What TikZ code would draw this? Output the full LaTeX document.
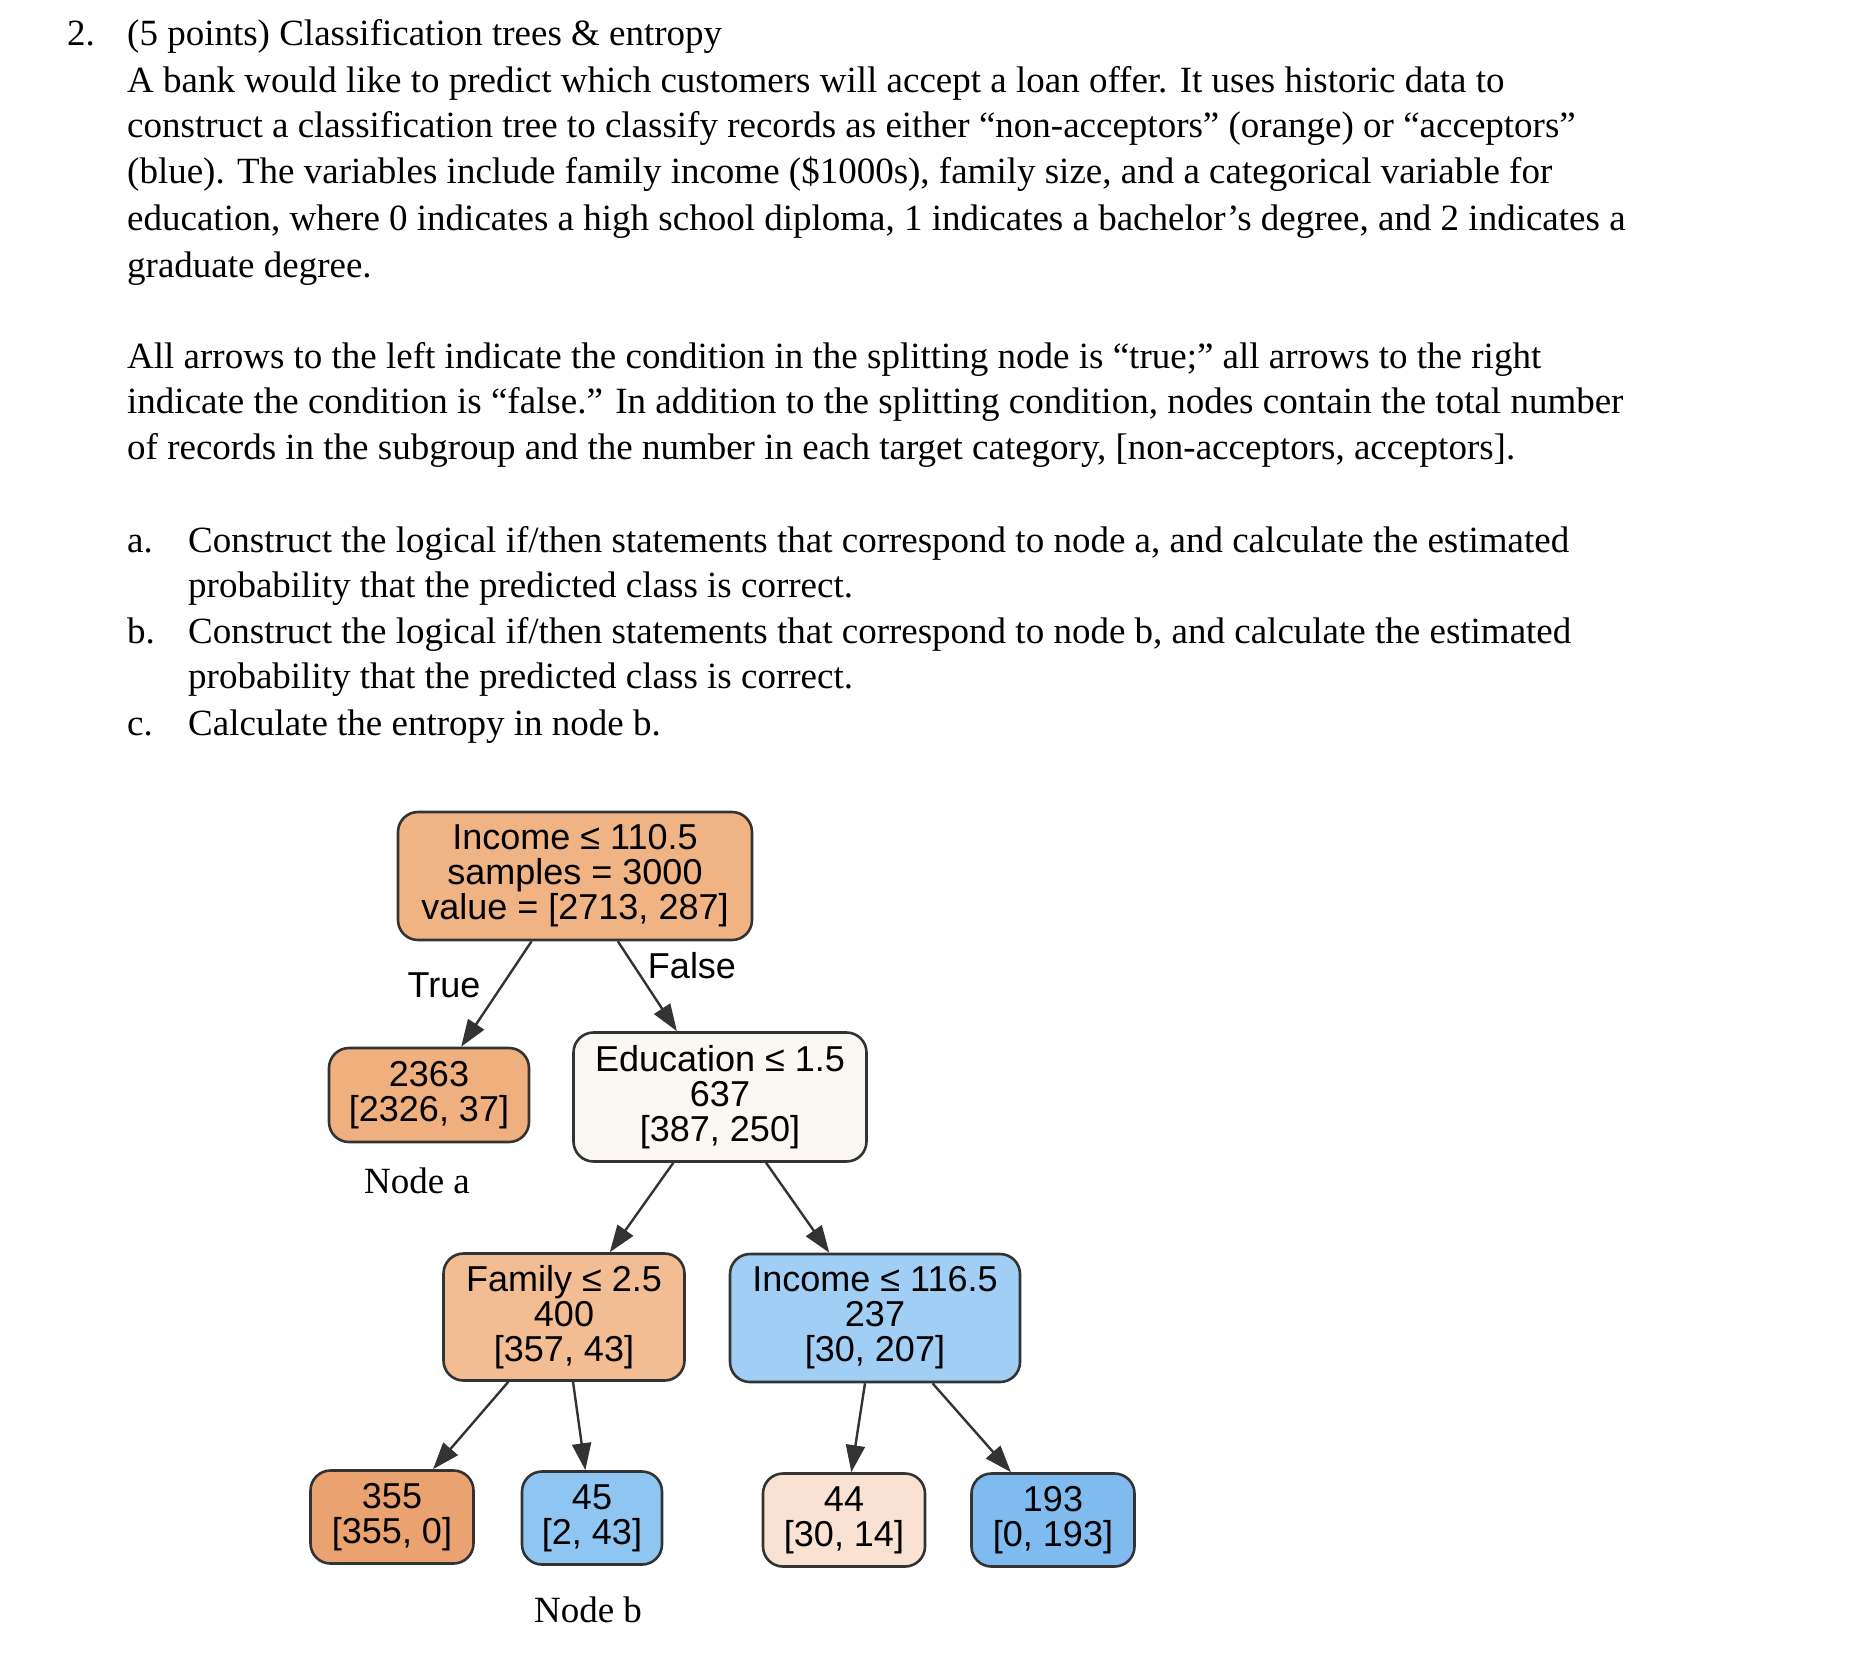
\documentclass[tikz,border=0pt]{standalone}
\usepackage{fontspec}
\setmainfont{Liberation Serif}
\newfontfamily\hv{Liberation Sans}
\usetikzlibrary{arrows.meta}
\definecolor{ink}{HTML}{333333}
\definecolor{orA}{HTML}{F0B384}
\definecolor{orB}{HTML}{EFAF7E}
\definecolor{orC}{HTML}{F2BD92}
\definecolor{orD}{HTML}{EAA270}
\definecolor{peach}{HTML}{F9E2D1}
\definecolor{cream}{HTML}{FBF7F2}
\definecolor{blA}{HTML}{A0CEF4}
\definecolor{blB}{HTML}{8FC5F1}
\definecolor{blC}{HTML}{7FBBEF}
\tikzset{
  txt/.style={anchor=base west, inner sep=0pt, font=\fontsize{37}{46}\selectfont},
  lbl/.style={anchor=base, inner sep=0pt, font=\fontsize{37}{46}\selectfont},
  tbox/.style={draw=ink, line width=2.6pt, rounded corners=20pt, inner sep=0pt,
    align=center, font=\hv\fontsize{36}{35}\selectfont},
  tedge/.style={draw=ink, line width=2.4pt, -{Triangle[length=27pt,width=19pt]}},
  elbl/.style={anchor=base, inner sep=0pt, font=\hv\fontsize{36}{35}\selectfont}
}
\begin{document}
\begin{tikzpicture}[x=1pt,y=-1pt]
\useasboundingbox (0,0) rectangle (1852,1668);
% text
\node[txt] (n2) at (67,45) {2.};
\node[txt] (l1) at (127,45) {(5 points) Classification trees \& entropy};
\node[txt] (l2) at (127,92) {A bank would like to predict which customers will accept a loan offer. It uses historic data to};
\node[txt] (l3) at (127,137) {construct a classification tree to classify records as either “non-acceptors” (orange) or “acceptors”};
\node[txt] (l4) at (127,183) {(blue). The variables include family income (\$1000s), family size, and a categorical variable for};
\node[txt] (l5) at (127,230) {education, where 0 indicates a high school diploma, 1 indicates a bachelor’s degree, and 2 indicates a};
\node[txt] (l6) at (127,277) {graduate degree.};
\node[txt] (l7) at (127,368) {All arrows to the left indicate the condition in the splitting node is “true;” all arrows to the right};
\node[txt] (l8) at (127,413) {indicate the condition is “false.” In addition to the splitting condition, nodes contain the total number};
\node[txt] (l9) at (127,459) {of records in the subgroup and the number in each target category, [non-acceptors, acceptors].};
\node[txt] (qa) at (127,552) {a.};
\node[txt] (qa1) at (188,552) {Construct the logical if/then statements that correspond to node a, and calculate the estimated};
\node[txt] (qa2) at (188,597) {probability that the predicted class is correct.};
\node[txt] (qb) at (127,643) {b.};
\node[txt] (qb1) at (188,643) {Construct the logical if/then statements that correspond to node b, and calculate the estimated};
\node[txt] (qb2) at (188,688) {probability that the predicted class is correct.};
\node[txt] (qc) at (127,735) {c.};
\node[txt] (qc1) at (188,735) {Calculate the entropy in node b.};
% tree nodes
\node[tbox, fill=orA, minimum width=354pt, minimum height=128pt] (root) at (575,876)
  {Income ≤ 110.5\\samples = 3000\\{value = [2713, 287]}};
\node[tbox, fill=orB, minimum width=200pt, minimum height=94pt] (na) at (429,1095)
  {2363\\{[2326, 37]}};
\node[tbox, fill=cream, minimum width=293pt, minimum height=129pt] (edu) at (720,1097)
  {Education ≤ 1.5\\637\\{[387, 250]}};
\node[tbox, fill=orC, minimum width=241pt, minimum height=127pt] (fam) at (564,1317)
  {Family ≤ 2.5\\400\\{[357, 43]}};
\node[tbox, fill=blA, minimum width=290pt, minimum height=128pt] (inc) at (875,1318)
  {Income ≤ 116.5\\237\\{[30, 207]}};
\node[tbox, fill=orD, minimum width=163pt, minimum height=93pt] (l355) at (392,1517)
  {355\\{[355, 0]}};
\node[tbox, fill=blB, minimum width=140pt, minimum height=93pt] (nb) at (592,1518)
  {45\\{[2, 43]}};
\node[tbox, fill=peach, minimum width=162pt, minimum height=93pt] (l44) at (844,1520)
  {44\\{[30, 14]}};
\node[tbox, fill=blC, minimum width=163pt, minimum height=93pt] (l193) at (1053,1520)
  {193\\{[0, 193]}};
% edges
\draw[tedge] (root) -- (na);
\draw[tedge] (root) -- (edu);
\draw[tedge] (edu) -- (fam);
\draw[tedge] (edu) -- (inc);
\draw[tedge] (fam) -- (l355);
\draw[tedge] (fam) -- (nb);
\draw[tedge] (inc) -- (l44);
\draw[tedge] (inc) -- (l193);
% edge labels
\node[elbl] (tl) at (444,997) {True};
\node[elbl] (fl) at (692,978) {False};
% captions
\node[lbl] (capa) at (417,1193) {Node a};
\node[lbl] (capb) at (588,1622) {Node b};
\end{tikzpicture}
\end{document}
